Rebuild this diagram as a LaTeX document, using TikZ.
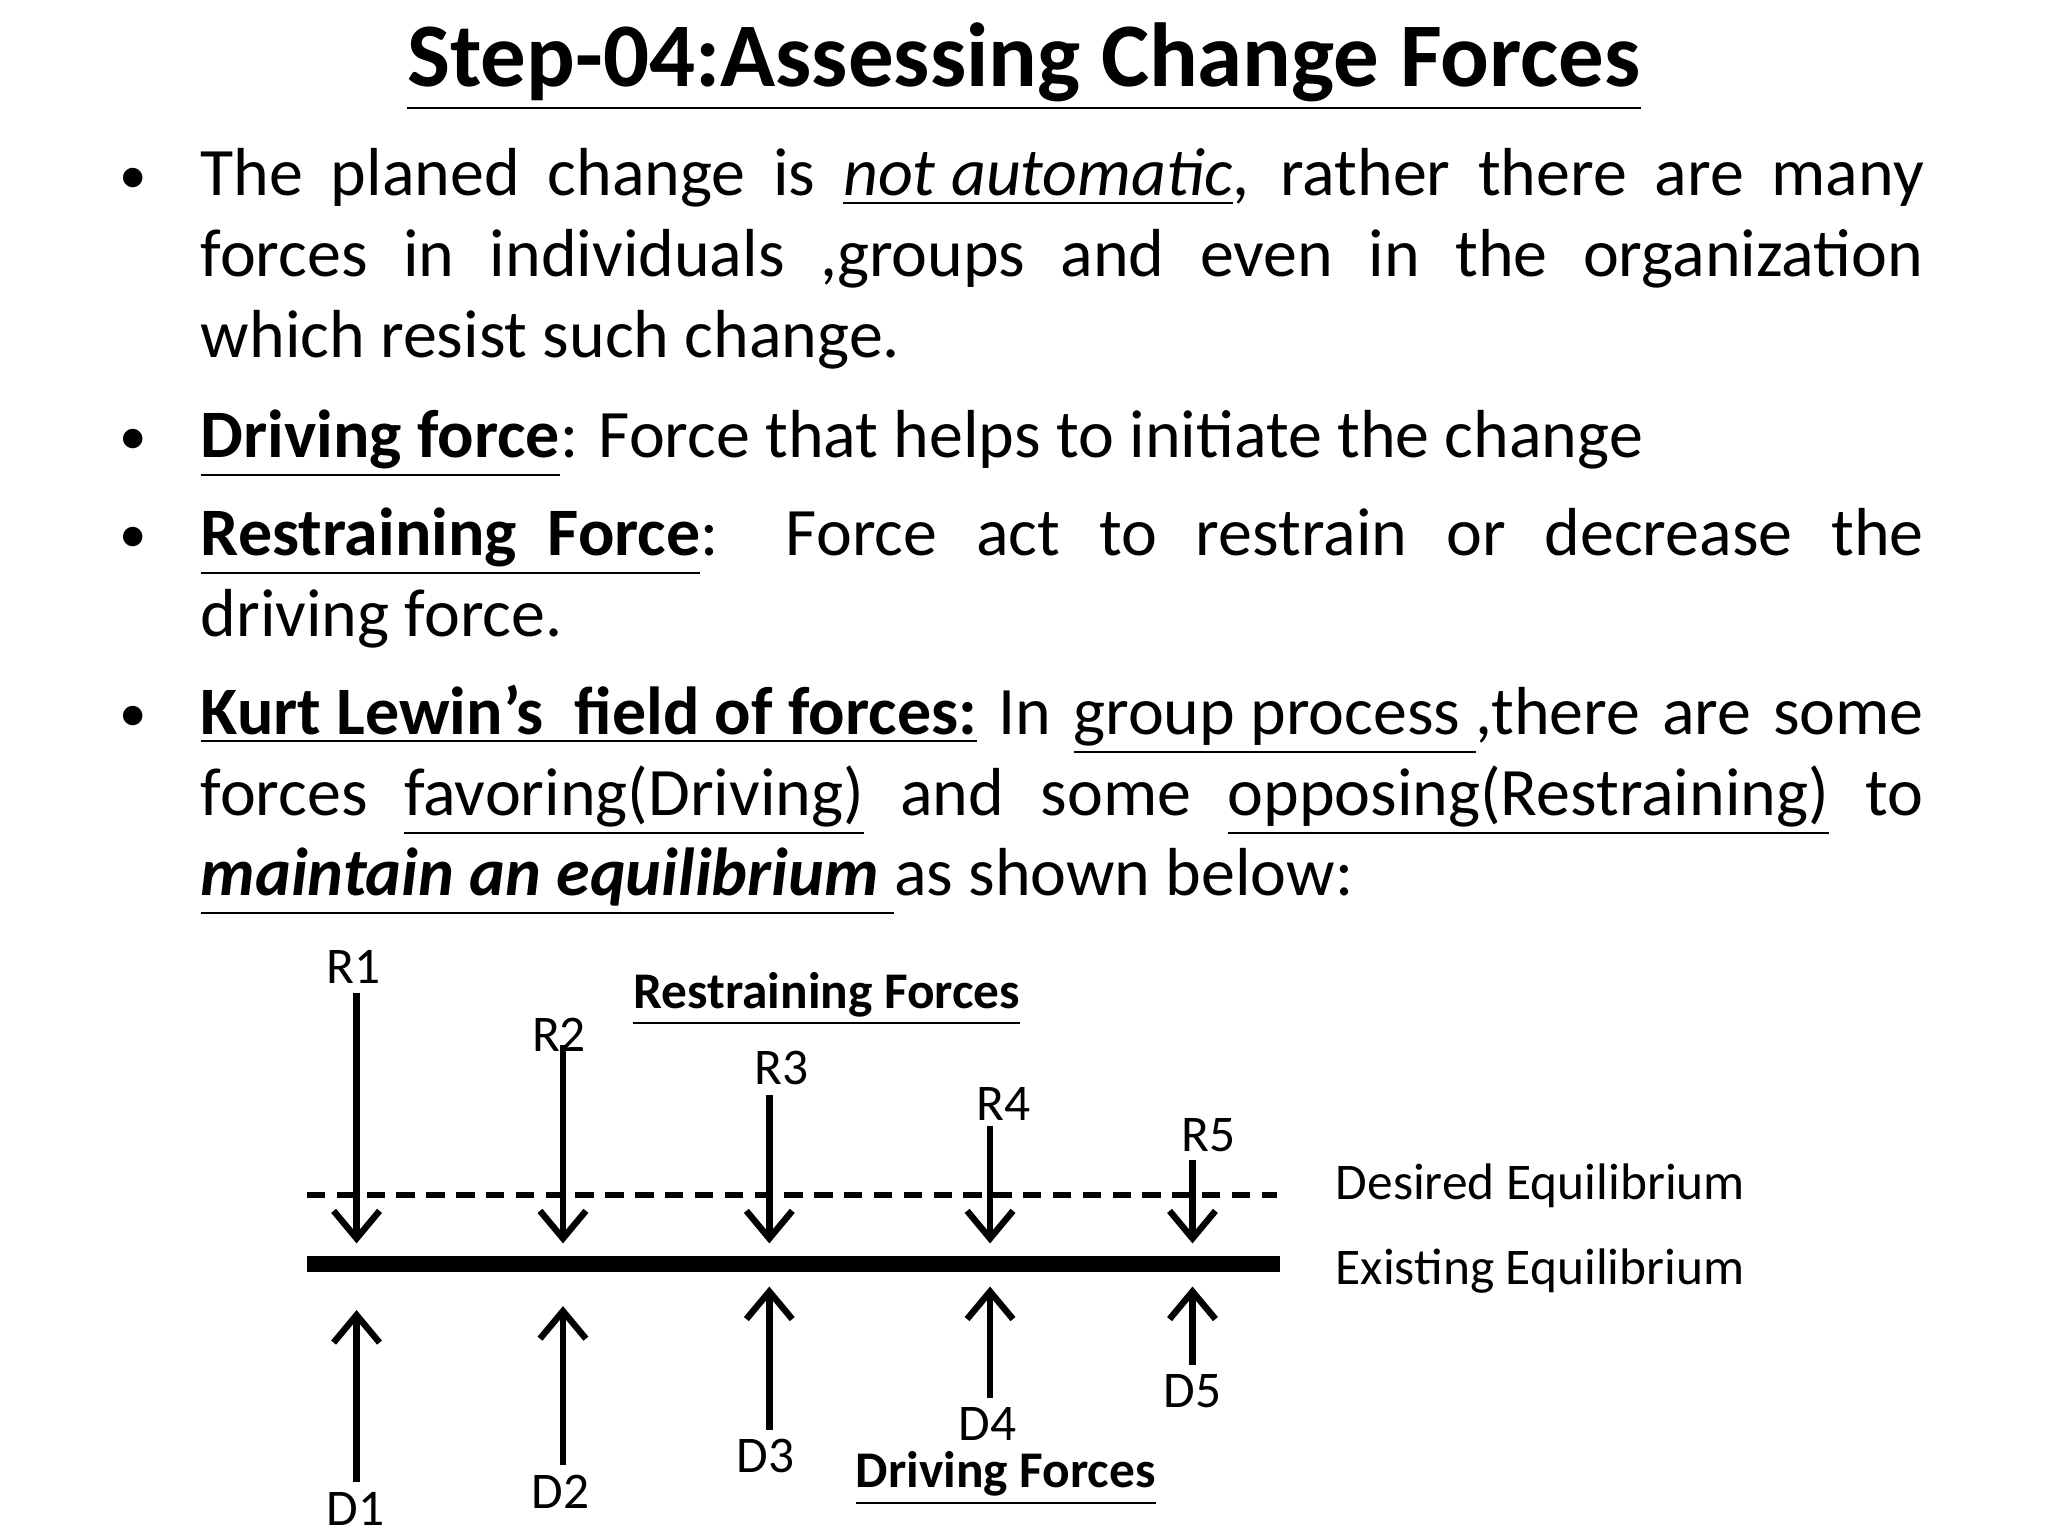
\documentclass[tikz,border=0pt]{standalone}
\usepackage{fontspec}
\setmainfont{Carlito}
\usetikzlibrary{arrows.meta}
\newcommand{\jline}[1]{\makebox[13.19cm][s]{#1}}
\begin{document}
\begin{tikzpicture}[x=1cm,y=1cm,
  body/.style={anchor=base west,inner sep=0pt,font=\fontsize{14.8}{17}\selectfont},
  bul/.style={anchor=base,inner sep=0pt,font=\fontsize{12}{14}\selectfont},
  lab/.style={inner sep=0pt,font=\fontsize{11.2}{13}\selectfont},
  force/.style={line width=1.4pt,-{Straight Barb[length=6pt,width=10pt,line width=1.4pt]}}]
\useasboundingbox (0,0) rectangle (15.68,-11.76);
\node[anchor=base,inner sep=0pt,font=\fontsize{19.8}{22}\selectfont\bfseries] (title) at (7.84,-0.66) {\underline{Step-04:Assessing Change Forces}};
% bullets
\foreach \y/\n in {1.48/b1,3.48/b2,4.23/b3,5.60/b4}
  \node[bul] (\n) at (1.02,-\y) {•};
\node[body] (l1) at (1.53,-1.50) {\jline{The planed change is \underline{\itshape not automatic}, rather there are many}};
\node[body] (l2) at (1.53,-2.12) {\jline{forces in individuals ,groups and even in the organization}};
\node[body] (l3) at (1.53,-2.74) {which resist such change.};
\node[body] (l4) at (1.53,-3.50) {\textbf{\underline{Driving force}}: Force that helps to initiate the change};
\node[body] (l5) at (1.53,-4.25) {\jline{\textbf{\underline{Restraining\ \ Force}}: Force act to restrain or decrease the}};
\node[body] (l6) at (1.53,-4.87) {driving force.};
\node[body] (l7) at (1.53,-5.62) {\jline{\textbf{\underline{Kurt Lewin’s\ \ field of forces:}} In \underline{group process\ },there are some}};
\node[body] (l8) at (1.53,-6.24) {\jline{forces \underline{favoring(Driving)} and some \underline{opposing(Restraining)} to}};
\node[body] (l9) at (1.53,-6.86) {\underline{\textbf{\itshape maintain an equilibrium }}as shown below:};
% equilibrium lines
\coordinate (dl) at (2.35,-9.15); \coordinate (dr) at (9.78,-9.15);
\coordinate (el) at (2.35,-9.68); \coordinate (er) at (9.80,-9.68);
\draw[line width=1.3pt,dash pattern=on 4pt off 2.5pt] (dl) -- (dr);
\draw[line width=3.5pt] (el) -- (er);
\node[lab,anchor=west] (de) at (10.22,-9.08) {Desired Equilibrium};
\node[lab,anchor=west] (ee) at (10.22,-9.73) {Existing Equilibrium};
\node[lab,font=\fontsize{11.2}{13}\selectfont\bfseries] (rf) at (6.33,-7.65) {\underline{Restraining Forces}};
\node[lab,font=\fontsize{11.2}{13}\selectfont\bfseries] (df) at (7.70,-11.32) {\underline{Driving Forces}};
% restraining
\foreach \i/\x/\t/\lx/\ly in {1/2.73/7.60/2.71/7.40,2/4.31/8.00/4.28/7.92,3/5.89/8.38/5.98/8.18,4/7.58/8.62/7.68/8.45,5/9.13/8.88/9.25/8.69}{
  \node[lab] (R\i) at (\lx,-\ly) {R\i};
  \coordinate (rs\i) at (\x,-\t); \coordinate (re\i) at (\x,-9.52);
  \draw[force] (rs\i) -- (re\i);
}
% driving
\foreach \i/\x/\b/\tp/\lx/\ly in {1/2.73/11.35/10.03/2.72/11.55,2/4.31/11.22/10.00/4.29/11.42,3/5.89/10.95/9.85/5.86/11.15,4/7.58/10.70/9.85/7.56/10.90,5/9.13/10.45/9.85/9.13/10.65}{
  \node[lab] (D\i) at (\lx,-\ly) {D\i};
  \coordinate (ds\i) at (\x,-\b); \coordinate (de\i) at (\x,-\tp);
  \draw[force] (ds\i) -- (de\i);
}
\end{tikzpicture}
\end{document}
